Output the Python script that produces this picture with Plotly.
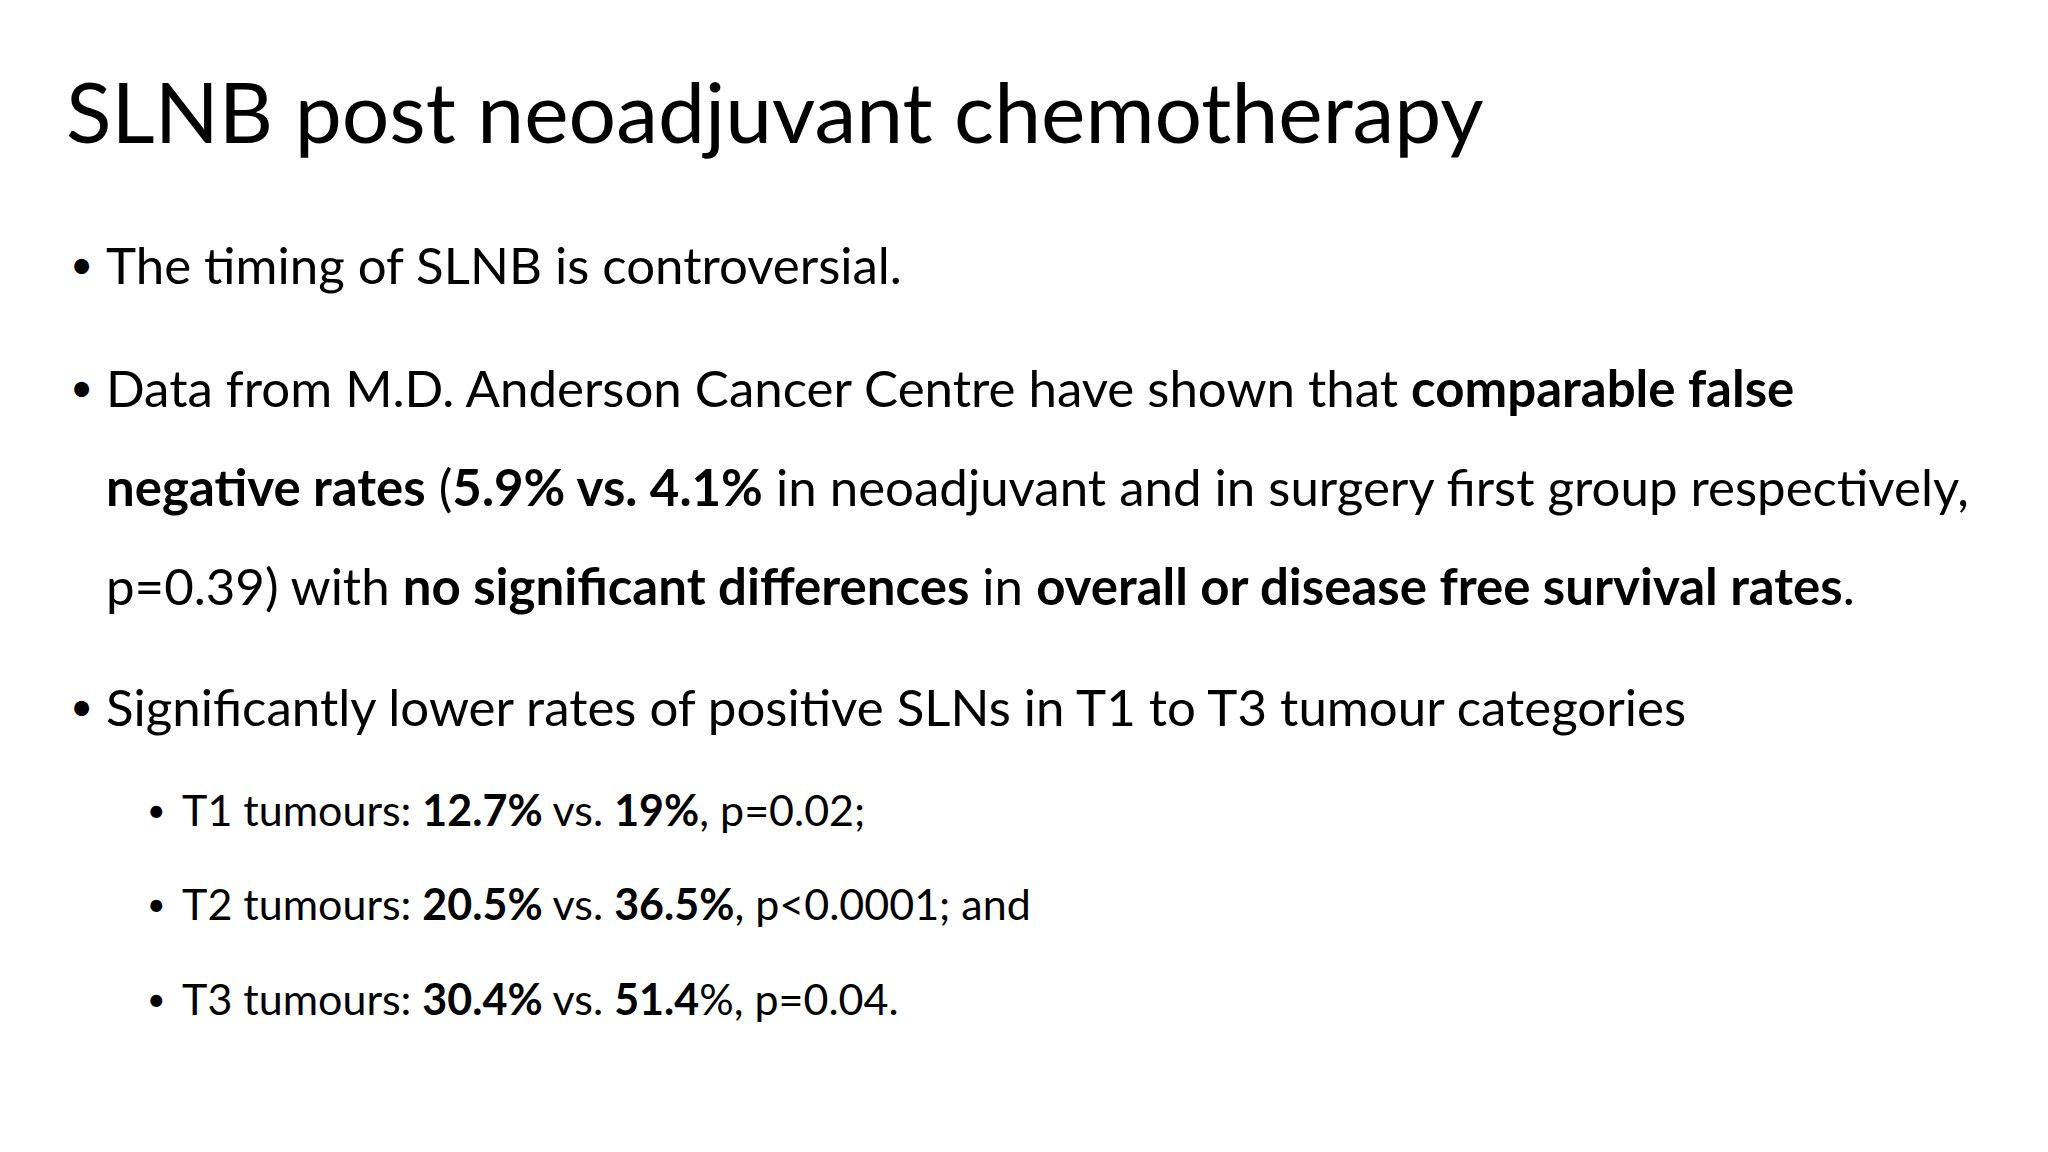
import plotly.graph_objects as go

title = "SLNB post neoadjuvant chemotherapy"

# main bullet lines (level, text)
lines = [
    (1, "The timing of SLNB is controversial."),
    (1, "Data from M.D. Anderson Cancer Centre have shown that <b>comparable false</b>"),
    (0, "<b>negative rates</b> (<b>5.9% vs. 4.1%</b> in neoadjuvant and in surgery first group respectively,"),
    (0, "p=0.39) with <b>no significant differences</b> in <b>overall or disease free survival rates</b>."),
    (1, "Significantly lower rates of positive SLNs in T1 to T3 tumour categories"),
    (2, "T1 tumours: <b>12.7%</b> vs. <b>19%</b>, p=0.02;"),
    (2, "T2 tumours: <b>20.5%</b> vs. <b>36.5%</b>, p<0.0001; and"),
    (2, "T3 tumours: <b>30.4%</b> vs. <b>51.4</b>%, p=0.04."),
]
line_y = [256, 379, 478, 577, 698, 801, 895, 990]

FONT = "Lato"
fig = go.Figure()

fig.add_annotation(x=56, y=102, text=title, showarrow=False, xanchor="left",
                   yanchor="middle", font=dict(family=FONT, size=84, color="black"))

for (lvl, txt), y in zip(lines, line_y):
    if lvl == 2:
        fig.add_annotation(x=137, y=y, text="•", showarrow=False, xanchor="left",
                           yanchor="middle", font=dict(family=FONT, size=32, color="black"))
        fig.add_annotation(x=172, y=y, text=txt, showarrow=False, xanchor="left",
                           yanchor="middle", font=dict(family=FONT, size=43, color="black"))
    else:
        if lvl == 1:
            fig.add_annotation(x=60, y=y, text="•", showarrow=False, xanchor="left",
                               yanchor="middle", font=dict(family=FONT, size=40, color="black"))
        fig.add_annotation(x=96, y=y, text=txt, showarrow=False, xanchor="left",
                           yanchor="middle", font=dict(family=FONT, size=51, color="black"))

fig.update_layout(
    width=2048, height=1152,
    margin=dict(l=0, r=0, t=0, b=0),
    paper_bgcolor="white", plot_bgcolor="white",
    xaxis=dict(range=[0, 2048], visible=False, fixedrange=True),
    yaxis=dict(range=[1152, 0], visible=False, fixedrange=True),
    showlegend=False,
)

fig.write_html("out.html")
